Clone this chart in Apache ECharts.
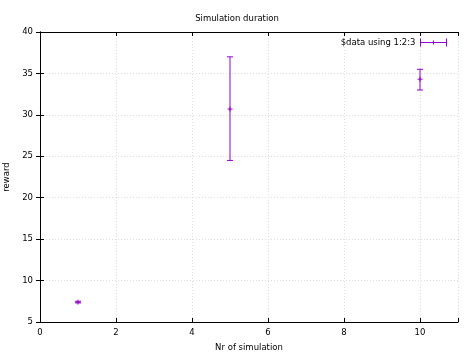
<!DOCTYPE html>
<html><head><meta charset="utf-8">
<script src="https://cdn.jsdelivr.net/npm/echarts@6/dist/echarts.min.js"></script>
<style>html,body{margin:0;padding:0;background:#fff}#c{width:474px;height:355px}</style>
</head><body><div id="c"></div>
<script>
const simNr = [1, 5, 10];
const rewardMean = [7.4, 30.7, 34.3];
const rewardLow = [7.3, 24.5, 33.0];
const rewardHigh = [7.5, 37.0, 35.5];
const xTicks = [0, 2, 4, 6, 8, 10];
const yTicks = [5, 10, 15, 20, 25, 30, 35, 40];

const color = '#9400D3';
const font = 'DejaVu Sans, sans-serif';
const fs = 8.5;
const data = simNr.map((x, i) => [x, rewardMean[i], rewardLow[i], rewardHigh[i]]);

const chart = echarts.init(document.getElementById('c'));
const axisCommon = {
  axisLine: {show: true, lineStyle: {color: '#000', width: 1}},
  axisTick: {show: true, inside: true, length: 4, lineStyle: {color: '#000'}},
};
chart.setOption({
  animation: false,
  title: {text: 'Simulation duration', left: 'center', top: 9,
    textStyle: {fontFamily: font, fontSize: fs, fontWeight: 'normal', color: '#000'}},
  legend: {
    right: 20, top: 31, align: 'right', itemWidth: 26, itemHeight: 8, itemGap: 5,
    textStyle: {fontFamily: font, fontSize: fs, color: '#000'},
    data: [{name: '$data using 1:2:3',
      icon: 'path://M0,0 L0,8 M0,4 L26,4 M26,0 L26,8 M13,2 L13,6 M11,4 L15,4',
      itemStyle: {color: 'none', borderColor: color, borderWidth: 1}}]
  },
  grid: {left: 40, top: 32, right: 16, bottom: 33, containLabel: false, outerBoundsMode: 'none'},
  xAxis: [
    Object.assign({type: 'value', min: 0, max: 11, interval: 2, position: 'bottom',
      name: 'Nr of simulation', nameLocation: 'middle', nameGap: 21,
      nameTextStyle: {fontFamily: font, fontSize: fs, color: '#000'},
      axisLabel: {fontFamily: font, fontSize: fs, color: '#000', margin: 6,
        formatter: v => xTicks.includes(v) ? String(v) : ''},
      splitLine: {show: true, lineStyle: {type: [1, 2], color: '#ddd', width: 1}}}, axisCommon),
    Object.assign({type: 'value', min: 0, max: 11, interval: 2, position: 'top',
      axisLabel: {show: false}, splitLine: {show: false}}, axisCommon)
  ],
  yAxis: [
    Object.assign({type: 'value', min: 5, max: 40, interval: 5, position: 'left',
      name: 'reward', nameLocation: 'middle', nameGap: 27, nameRotate: 90,
      nameTextStyle: {fontFamily: font, fontSize: fs, color: '#000'},
      axisLabel: {fontFamily: font, fontSize: fs, color: '#000', margin: 7,
        formatter: v => yTicks.includes(v) ? String(v) : ''},
      splitLine: {show: true, lineStyle: {type: [1, 2], color: '#ddd', width: 1}}}, axisCommon),
    Object.assign({type: 'value', min: 5, max: 40, interval: 5, position: 'right',
      axisLabel: {show: false}, splitLine: {show: false}}, axisCommon)
  ],
  series: [{
    name: '$data using 1:2:3',
    type: 'custom',
    xAxisIndex: 0, yAxisIndex: 0,
    data: data,
    encode: {x: 0, y: [1, 2, 3]},
    renderItem: function (params, api) {
      const x = api.value(0);
      const c = api.coord([x, api.value(1)]);
      const lo = api.coord([x, api.value(2)]);
      const hi = api.coord([x, api.value(3)]);
      const cap = 3, cr = 2.5;
      const st = {stroke: color, lineWidth: 1, fill: null};
      return {type: 'group', children: [
        {type: 'line', shape: {x1: lo[0], y1: lo[1], x2: hi[0], y2: hi[1]}, style: st},
        {type: 'line', shape: {x1: lo[0]-cap, y1: lo[1], x2: lo[0]+cap, y2: lo[1]}, style: st},
        {type: 'line', shape: {x1: hi[0]-cap, y1: hi[1], x2: hi[0]+cap, y2: hi[1]}, style: st},
        {type: 'line', shape: {x1: c[0]-cr, y1: c[1], x2: c[0]+cr, y2: c[1]}, style: st},
        {type: 'line', shape: {x1: c[0], y1: c[1]-cr, x2: c[0], y2: c[1]+cr}, style: st}
      ]};
    }
  }]
});
</script></body></html>
